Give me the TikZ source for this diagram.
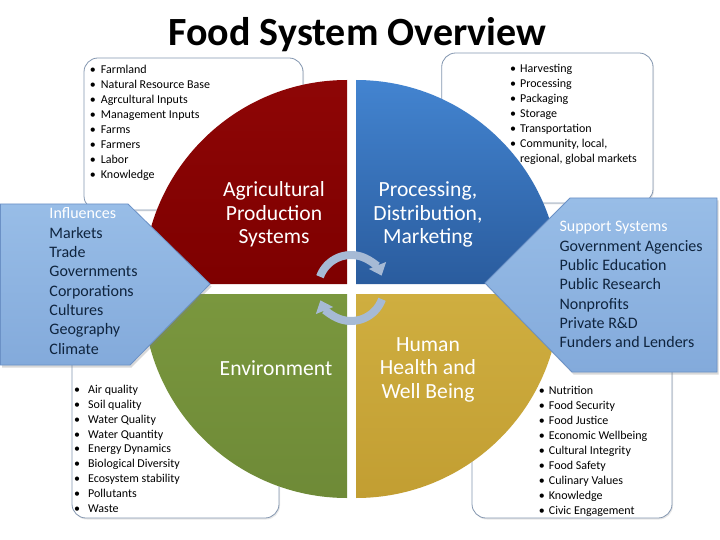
\documentclass[tikz,border=0pt]{standalone}
\usepackage{fontspec}
\setmainfont{Carlito}
\usetikzlibrary{arrows.meta,shadows}
\definecolor{redtop}{HTML}{8E0606}
\definecolor{redbot}{HTML}{7E0000}
\definecolor{bluetop}{HTML}{4384D0}
\definecolor{bluebot}{HTML}{2A5C9E}
\definecolor{greentop}{HTML}{7A973E}
\definecolor{greenbot}{HTML}{6E8A37}
\definecolor{yeltop}{HTML}{CFAE40}
\definecolor{yelbot}{HTML}{C29E32}
\definecolor{pentlight}{HTML}{98BDE7}
\definecolor{pentdark}{HTML}{83AADB}
\definecolor{pentline}{HTML}{6B91C6}
\definecolor{boxline}{HTML}{8497B0}
\definecolor{navy}{HTML}{0F243E}
\definecolor{cycblue}{HTML}{A6BAD5}
\newlength\bgap
\newcommand\B{\llap{\textbullet\hspace{\bgap}}}
\begin{document}
\begin{tikzpicture}[x=1bp,y=-1bp,
  infobox/.style={draw=boxline, fill=white, line width=0.8bp, rounded corners=14bp,
    drop shadow={opacity=0.18, shadow xshift=1bp, shadow yshift=-1.5bp}},
  pent/.style={draw=pentline, line width=0.8bp, top color=pentlight, bottom color=pentdark,
    drop shadow={opacity=0.3, shadow xshift=1.5bp, shadow yshift=-2.5bp}},
  cyc/.style={line width=8bp, draw=cycblue, -{Triangle[width=18bp,length=11bp]}},
  qtext/.style={text=white, anchor=base, inner sep=0pt, font=\fontsize{21.6bp}{23.5bp}\selectfont},
  list/.style={text=black, anchor=base west, inner sep=0pt, font=\fontsize{12bp}{15bp}\selectfont},
  ptext/.style={text=navy, anchor=base west, inner sep=0pt, font=\fontsize{16bp}{19.3bp}\selectfont}
]
\useasboundingbox (0,0) rectangle (720,540);
\fill[white] (0,0) rectangle (720,540);

% title
\node[anchor=base, inner sep=0pt, font=\bfseries\fontsize{40bp}{44bp}\selectfont] (title) at (357.5,45.7) {Food System Overview};

% info boxes
\draw[infobox] (84,58) rectangle (303,210);
\draw[infobox] (441.7,53) rectangle (653,203);
\draw[infobox] (72,300) rectangle (279,518);
\draw[infobox] (472,300) rectangle (672,518);

\node[list] (tl) at (100.7,74) {\setlength\bgap{5bp}\begin{tabular}[t]{@{}l@{}}
\B Farmland\\ \B Natural Resource Base\\ \B Agrcultural Inputs\\ \B Management Inputs\\
\B Farms\\ \B Farmers\\ \B Labor\\ \B Knowledge\end{tabular}};

\node[list] (tr) at (520,72.3) {\setlength\bgap{4bp}\begin{tabular}[t]{@{}l@{}}
\B Harvesting\\ \B Processing\\ \B Packaging\\ \B Storage\\ \B Transportation\\
\B Community, local,\\ regional, global markets\end{tabular}};

\node[list, font=\fontsize{12bp}{14.9bp}\selectfont] (bl) at (88,393.3) {\setlength\bgap{8bp}\begin{tabular}[t]{@{}l@{}}
\B Air quality\\ \B Soil quality\\ \B Water Quality\\ \B Water Quantity\\ \B Energy Dynamics\\
\B Biological Diversity\\ \B Ecosystem stability\\ \B Pollutants\\ \B Waste\end{tabular}};

\node[list] (br) at (548.7,394) {\setlength\bgap{4bp}\begin{tabular}[t]{@{}l@{}}
\B Nutrition\\ \B Food Security\\ \B Food Justice\\ \B Economic Wellbeing\\ \B Cultural Integrity\\
\B Food Safety\\ \B Culinary Values\\ \B Knowledge\\ \B Civic Engagement\end{tabular}};

% quadrants
\path[top color=redtop, bottom color=redbot] (347,284) -- (143,284) arc[start angle=180,end angle=270,radius=204] -- cycle;
\path[top color=bluetop, bottom color=bluebot] (356,284) -- (356,80) arc[start angle=270,end angle=360,radius=204] -- cycle;
\path[top color=yeltop, bottom color=yelbot] (356,294) -- (560,294) arc[start angle=0,end angle=90,radius=204] -- cycle;
\path[top color=greentop, bottom color=greenbot] (347,294) -- (347,498) arc[start angle=90,end angle=180,radius=204] -- cycle;

\node[qtext] (agri) at (274,197) {\begin{tabular}[t]{@{}c@{}}Agricultural\\Production\\Systems\end{tabular}};
\node[qtext] (proc) at (428,197) {\begin{tabular}[t]{@{}c@{}}Processing,\\Distribution,\\Marketing\end{tabular}};
\node[qtext] (env) at (276,375) {Environment};
\node[qtext] (hum) at (428,351) {\begin{tabular}[t]{@{}c@{}}Human\\Health and\\Well Being\end{tabular}};

% cycle arrows
\coordinate (cc) at (351,288);
\draw[cyc] ([shift={(200:33)}]cc) arc[start angle=200,end angle=338,radius=33];
\draw[cyc] ([shift={(20:33)}]cc) arc[start angle=20,end angle=158,radius=33];

% pentagons
\path[pent] (0.5,204) -- (128,204) -- (210,284) -- (130,365) -- (0.5,365) -- cycle;
\path[pent] (485,283) -- (570,198) -- (717,198) -- (717,372) -- (572,372) -- cycle;

\node[ptext] (infl) at (49.3,219) {\begin{tabular}[t]{@{}l@{}}
\textcolor{white}{Influences}\\Markets\\Trade\\Governments\\Corporations\\Cultures\\Geography\\Climate\end{tabular}};
\node[ptext] (supp) at (559.3,232) {\begin{tabular}[t]{@{}l@{}}
\textcolor{white}{Support Systems}\\Government Agencies\\Public Education\\Public Research\\Nonprofits\\Private R\&D\\Funders and Lenders\end{tabular}};
\end{tikzpicture}
\end{document}
